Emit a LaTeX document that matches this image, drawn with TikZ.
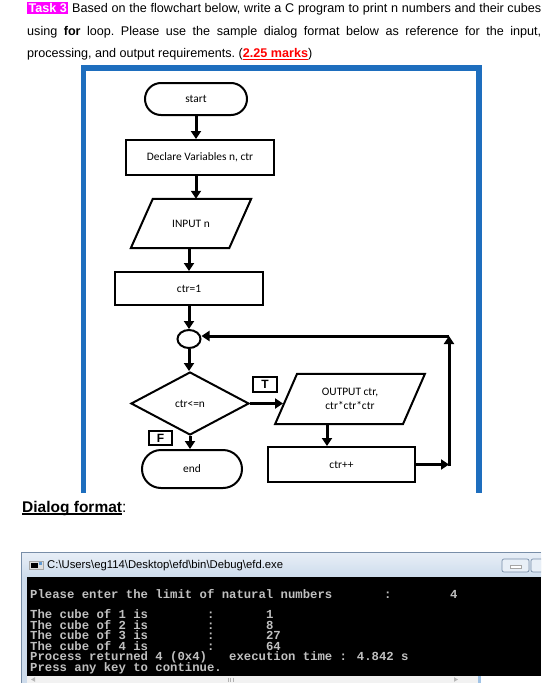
\documentclass[tikz,border=0pt]{standalone}
\usepackage{fontspec}
\usepackage{tikz}
\usetikzlibrary{shapes.geometric, arrows.meta, calc}
\setmainfont{Liberation Sans}
\newfontfamily\calibrifont{Carlito}
\newfontfamily\consolefont{Liberation Mono}
\definecolor{frameblue}{RGB}{30, 110, 190}
\definecolor{taskpink}{RGB}{255, 0, 255}
\definecolor{winblue}{RGB}{206, 220, 236}
\definecolor{wintop}{RGB}{232, 239, 247}
\definecolor{winedge}{RGB}{120, 142, 168}
\definecolor{consolegray}{RGB}{192, 192, 192}
\definecolor{barblue}{RGB}{160, 195, 230}
% word-style underline: thickness, depth below baseline, text
\newsavebox\ulbox
\newcommand{\wordul}[3]{\sbox\ulbox{#3}\rlap{\rule[-#2]{\wd\ulbox}{#1}}\usebox\ulbox}

\begin{document}
\begin{tikzpicture}[x=1pt, y=-1pt,
    termnode/.style={rectangle, draw, line width=2pt, rounded corners=16pt,
        inner sep=0pt, font=\calibrifont\fontsize{11.4}{13}\selectfont},
    procbox/.style={rectangle, draw, line width=2pt,
        minimum width=148pt, minimum height=35pt,
        inner sep=0pt, font=\calibrifont\fontsize{11.4}{13}\selectfont},
    iobox/.style={rectangle, align=center, inner sep=0pt,
        font=\calibrifont\fontsize{11.4}{13.5}\selectfont},
    ioline/.style={line width=2pt, line join=miter},
    decbox/.style={diamond, draw, line width=2pt,
        minimum width=118pt, minimum height=63pt,
        inner sep=0pt, font=\calibrifont\fontsize{11.4}{13}\selectfont},
    joinnode/.style={ellipse, draw, line width=2pt,
        minimum width=23pt, minimum height=18pt, inner sep=0pt},
    tagbox/.style={rectangle, draw, line width=1.5pt,
        minimum width=23pt, minimum height=14pt,
        inner sep=0pt, font=\bfseries\fontsize{12}{12}\selectfont},
    arr/.style={-{Triangle[length=8pt, width=10pt]}, line width=3pt},
    headtext/.style={anchor=base west, inner sep=0pt,
        font=\frenchspacing\fontsize{12.6}{15}\selectfont},
    termtext/.style={anchor=base west, inner sep=0pt, text=consolegray,
        text height=7.5pt, text depth=1pt,
        font=\consolefont\bfseries\fontsize{12.28}{12}\selectfont},
]
\useasboundingbox (0,0) rectangle (547,683);

% ── TASK TEXT ───────────────────────────────────────────────────────────────
\node[headtext] (line1) at (27,12.5) {\hbox to 514pt{\fboxsep=1.5pt\colorbox{taskpink}{\textcolor{white}{\textbf{Task 3}}} Based on the flowchart below, write a C program to print n numbers and their cubes}};
\node[headtext] (line2) at (27,35) {\hbox to 514pt{using \textbf{for} loop. Please use the sample dialog format below as reference for the input,}};
\node[headtext] (line3) at (27,57.5) {processing, and output requirements. (\textcolor{red}{\wordul{1pt}{2pt}{\textbf{2.25 marks}}})};

% ── BLUE FRAME ──────────────────────────────────────────────────────────────
\draw[frameblue, line width=5.5pt] (83.5,493) -- (83.5,67.75) -- (479,67.75) -- (479,493);

% ── FLOWCHART (main column near x=190) ──────────────────────────────────────
\node[termnode, minimum width=102pt, minimum height=32pt] (start) at (196,99) {start};
\node[procbox]  (decl)   at (200,157.5) {Declare Variables n, ctr};
\node[iobox, minimum width=98pt, minimum height=49pt] (input) at (191,223.5) {INPUT n};
\node[procbox, minimum height=33pt] (init) at (189,288.5) {ctr=1};
\node[joinnode] (join)   at (189,339) {};
\node[decbox]   (test)   at (190,403.5) {ctr<=n};
\node[iobox, minimum width=127.5pt, minimum height=50pt] (output) at (350,399) {OUTPUT ctr,\\ctr*ctr*ctr};
\node[procbox, minimum width=147pt] (incr) at (341.5,464.5) {ctr++};
\node[termnode, minimum width=100pt, minimum height=38pt, rounded corners=19pt] (stop) at (192,469) {end};

% slanted sides of the two I/O boxes
\draw[ioline] ([xshift=-11pt]input.south west) -- ([xshift=-11pt]input.south east)
    -- ([xshift=11pt]input.north east) -- ([xshift=11pt]input.north west) -- cycle;
\draw[ioline] ([xshift=-11pt]output.south west) -- ([xshift=-11pt]output.south east)
    -- ([xshift=11pt]output.north east) -- ([xshift=11pt]output.north west) -- cycle;

\node[tagbox, minimum width=24pt, minimum height=15pt] (ttag) at (265,384.5) {T};
\node[tagbox] (ftag) at (160.5,438) {F};

\draw[arr] (start.south) -- (start.south |- decl.north);
\draw[arr] (decl.south -| start) -- (input.north -| start);
\draw[arr] (input.south -| init) -- (init.north);
\draw[arr] (init.south) -- (join.north);
\draw[arr] (join.south) -- (join.south |- test.north);
\draw[arr] (test.east) -- ([xshift=-3pt]test.east -| output.west);
\draw[arr] ([xshift=-23pt]output.south) -- ([xshift=-23pt]output.south |- incr.north);
\draw[arr] (test.south) -- (test.south |- stop.north);

% loop back to the junction
\coordinate (loopbr) at (449,464.5);
\coordinate (looptr) at (449,336);
\draw[arr] (incr.east) -- (loopbr);
\draw[arr] ([yshift=-1.5pt]loopbr) -- (looptr);
\draw[arr] (looptr) -- (looptr -| join.east);

% ── DIALOG FORMAT ───────────────────────────────────────────────────────────
\node[anchor=base west, inner sep=0pt, font=\fontsize{15.5}{18}\selectfont] (dialoghead) at (22,512) {\wordul{1.4pt}{2.8pt}{\textbf{Dialog format}}:};

% ── CONSOLE WINDOW ──────────────────────────────────────────────────────────
\fill[winblue] (21,552) rectangle (541,683);
\shade[top color=wintop, bottom color=winblue] (21,552) rectangle (541,577);
\draw[winedge, line width=0.6pt] (541,552.3) -- (21.3,552.3) -- (21.3,683);
\fill[black] (27,577) rectangle (541,676);
\fill[white] (481,676) rectangle (547,683);
\fill[gray!10] (27,676) rectangle (478,683);
\fill[barblue] (478,676) rectangle (481,683);
\fill[gray!55] (31,679.5) -- (35,677.2) -- (35,681.8) -- cycle;
\fill[gray!55] (458,679.5) -- (454,677.2) -- (454,681.8) -- cycle;
\draw[gray!60, line width=0.6pt] (228,677.5) -- (228,681.5) (230.5,677.5) -- (230.5,681.5) (233,677.5) -- (233,681.5);

% title bar
\draw[gray!70, fill=gray!25, line width=0.5pt] (29,561) rectangle (43,569);
\fill[black] (30.5,563) rectangle (38,568);
\fill[frameblue!70] (39,562) rectangle (42,564.5);
\node[anchor=west, inner sep=0pt, font=\fontsize{11.3}{13}\selectfont] (wintitle) at (47,565.5) {C:\textbackslash Users\textbackslash eg114\textbackslash Desktop\textbackslash efd\textbackslash bin\textbackslash Debug\textbackslash efd.exe};
\draw[winedge, fill=wintop, line width=0.7pt, rounded corners=2pt] (502,559) rectangle (529,572);
\draw[gray!70, fill=white, line width=0.5pt] (510,565) rectangle (521,568);
\draw[winedge, fill=wintop, line width=0.7pt, rounded corners=2pt] (541,559) -- (531,559) -- (531,572) -- (541,572);

% console text
\node[termtext] (prompt)      at (30,598)    {Please enter the limit of natural numbers};
\node[termtext] (promptcolon) at (383.8,598) {:};
\node[termtext] (promptval)   at (450,598)   {4};
\foreach \n/\v [count=\r from 0] in {1/1, 2/8, 3/27, 4/64} {
    \node[termtext] (cube\n)  at (30, 618.5+10.5*\r)    {The cube of \n\ is};
    \node[termtext] (colon\n) at (206.9, 618.5+10.5*\r) {:};
    \node[termtext] (value\n) at (265.8, 618.5+10.5*\r) {\v};
}
\node[termtext] (retline)  at (30,660.5)  {Process returned 4 (0x4)};
\node[termtext] (timeline) at (229,660.5) {execution time : 4.842 s};
\node[termtext] (pressline) at (30,671)   {Press any key to continue.};

\end{tikzpicture}
\end{document}
